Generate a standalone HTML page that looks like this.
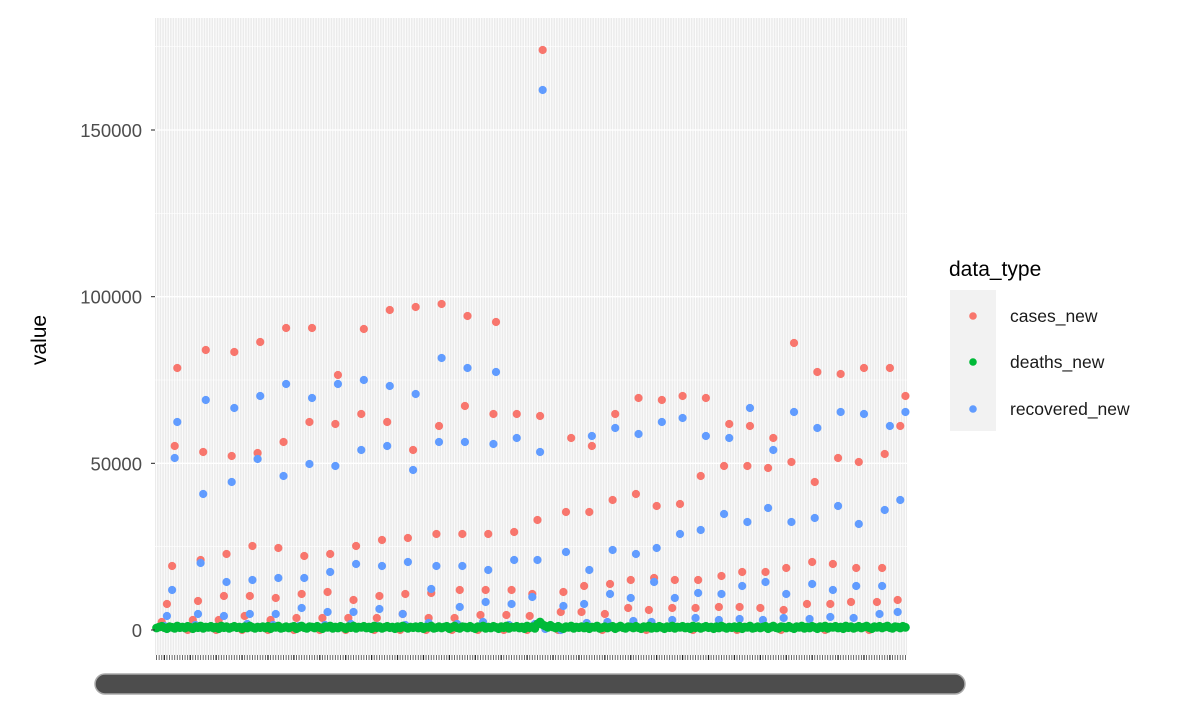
<!DOCTYPE html>
<html><head><meta charset="utf-8"><style>
html,body{margin:0;padding:0;background:#fff;}
svg{display:block;font-family:"Liberation Sans",Arial,sans-serif;}
</style></head><body>
<svg id="chart" width="1198" height="706" viewBox="0 0 1198 706">
<rect x="155" y="18" width="752" height="637" fill="#EBEBEB"/>
<g id="grid"></g>
<g id="pts"></g>
<g id="yax"></g>
<g id="xax"></g>
<text x="46" y="340" font-size="21" fill="#000" text-anchor="middle" transform="rotate(-90 46 340)">value</text>
<rect x="95" y="674" width="870" height="20" rx="10" fill="#4D4D4D" stroke="#AAAAAA" stroke-width="1.5"/>
<text x="520" y="708" font-size="10" fill="#000">.</text>
<g>
<text x="949" y="276" font-size="21" fill="#000">data_type</text>
<rect x="950" y="290" width="46" height="141" fill="#F2F2F2"/>
<g><circle cx="973" cy="316" r="3.8" fill="#F8766D"/><text x="1010" y="322" font-size="17.5" fill="#1A1A1A">cases_new</text></g>
<g><circle cx="973" cy="362" r="3.8" fill="#00BA38"/><text x="1010" y="368" font-size="17.5" fill="#1A1A1A">deaths_new</text></g>
<g><circle cx="973" cy="409" r="3.8" fill="#619CFF"/><text x="1010" y="415" font-size="17.5" fill="#1A1A1A">recovered_new</text></g>
</g>
</svg>
<script>
const nCategories = 290;
const yTicks = [0, 50000, 100000, 150000];
const yTickLabels = ["0", "50000", "100000", "150000"];
const yMinor = [25000, 75000, 125000, 175000];
const casesIdx = [8,7,19,18,30,29,40,39,50,49,60,59,70,69,80,79,90,89,100,99,110,109,120,119,131,130,139,149,148,160,168,177,186,195,203,212,221,229,238,246,255,264,273,283,289,287,
 6,17,27,37,47,57,67,77,87,97,108,118,128,138,147,158,167,176,185,193,202,210,219,228,236,245,254,263,271,281,
 4,16,26,36,46,56,66,76,86,96,106,117,127,137,145,157,165,175,183,192,200,209,218,226,235,243,253,261,270,280,286,
 2,14,24,34,44,54,64,74,85,95,105,115,125,135,144,156,164,173,182,190,199,208,217,225,233,242,251,260,268,278,
 12,23,33,43,53,63,73,84,94,104,114,124,134,143,155,172,189,207,224,241,258,275];
const casesVal = [78600,55200,84000,53400,83400,52200,86400,53100,90600,56400,90600,62400,76500,61800,90300,64800,96000,62400,96900,54000,97800,61200,94200,67200,92400,64800,64800,174000,64200,57600,55200,64800,69600,69000,70200,69600,61800,61200,57600,86100,77400,76800,78600,78600,70200,61200,
 19200,21000,22800,25200,24600,22200,22800,25200,27000,27600,28800,28800,28800,29400,33000,35400,35400,39000,40800,37200,37800,46200,49200,49200,48600,50400,44400,51600,50400,52800,
 7800,8700,10200,10200,9600,10800,11400,9000,10200,10800,11100,12000,12000,12000,10800,11400,13200,13800,15000,15600,15000,15000,16200,17400,17400,18600,20400,19800,18600,18600,9000,
 2400,3000,3000,4200,3000,3600,3600,3600,3600,4800,3600,3600,4500,4500,4200,5400,5400,4800,6600,6000,6600,6600,6900,6900,6600,6000,7800,7800,8400,8400,
 0,0,0,0,0,0,0,0,0,0,0,0,0,0,0,0,0,0,0,0,0,0];
const recIdx = [8,7,19,18,30,29,40,39,50,49,60,59,70,69,80,79,90,89,100,99,110,109,120,119,131,130,139,149,148,168,177,186,195,203,212,221,229,238,246,255,264,273,283,289,
 6,17,27,37,47,57,67,77,87,97,108,118,128,138,147,158,167,176,185,193,202,210,219,228,236,245,254,263,271,281,287,
 4,16,26,36,46,56,66,76,86,95,106,117,127,137,145,157,165,175,183,192,200,209,218,226,235,243,253,261,270,280,286,
 3,15,25,35,45,55,65,75,85,96,105,116,126,136,146,156,166,174,184,191,199,208,217,225,234,242,252,260,269,279,150];
const recVal = [62400,51600,69000,40800,66600,44400,70200,51300,73800,46200,69600,49800,73800,49200,75000,54000,73200,55200,70800,48000,81600,56400,78600,56400,77400,55800,57600,162000,53400,58200,60600,58800,62400,63600,58200,57600,66600,54000,65400,60600,65400,64800,61200,65400,
 12000,20100,14400,15000,15600,15600,17400,19800,19200,20400,19200,19200,18000,21000,21000,23400,18000,24000,22800,24600,28800,30000,34800,32400,36600,32400,33600,37200,31800,36000,39000,
 4200,4800,4200,4800,4800,6600,5400,5400,6300,4800,12300,6900,8400,7800,9900,7200,7800,10800,9600,14400,9600,11100,10800,13200,14400,10800,13800,12000,13200,13200,5400,
 1200,1500,900,1800,1500,1200,1500,1800,1200,1500,2100,1800,2400,1500,1800,0,2100,2400,2700,2400,3000,3600,3000,3300,3000,3600,3300,3900,3600,4800,300];
const deathsVal = [
 600,900,1100,700,400,1000,800,500,1200,700, 900,600,1100,800,400,1000,700,1200,500,900,
 800,1100,600,900,400,1200,700,1000,500,800, 1100,700,900,400,1000,600,1200,800,500,900,
 700,1000,600,1100,400,900,800,1200,500,700, 1000,600,900,1100,400,800,1200,700,500,1000,
 900,600,1100,700,400,1000,800,1200,500,900, 600,1100,800,400,1000,700,1200,500,900,800,
 1100,600,900,400,1200,700,1000,500,800,1100, 700,900,400,1000,600,1200,800,500,900,700,
 1000,600,1100,400,900,800,1200,500,700,1000, 600,900,1100,400,800,1200,700,500,1000,900,
 600,1100,700,400,1000,800,1200,500,900,600, 1100,800,400,1000,700,1200,500,900,800,1100,
 600,900,400,1200,700,1000,500,1800,2400,1600, 1200,800,1400,900,600,1100,700,400,1000,800,
 1200,500,900,700,1000,600,1100,400,900,800, 1200,500,700,1000,600,900,1100,400,800,1200,
 700,500,1000,900,600,1100,700,400,1000,800, 1200,500,900,600,1100,800,400,1000,700,1200,
 500,900,800,1100,600,900,400,1200,700,1000, 500,800,1100,700,900,400,1000,600,1200,800,
 500,900,700,1000,600,1100,400,900,800,1200, 500,700,1000,600,900,1100,400,800,1200,700,
 500,1000,900,600,1100,700,400,1000,800,1200, 500,900,600,1100,800,400,1000,700,1200,500,
 900,800,1100,600,900,400,1200,700,1000,500, 800,1100,600,900,1200,700,
 400,1000,800,1100,600,900,1200,700,500,1000, 900,600,1100,800];

const NS='http://www.w3.org/2000/svg';
const PL=155, PR=907, PT=18, PB=655;
const step=(PR-PL)/(nCategories-1+1.2);
function xPos(i){return PL+0.6*step+i*step;}
function yPos(v){return 630 - v/300;}
function mk(tag,attrs,parent){const e=document.createElementNS(NS,tag);for(const k in attrs)e.setAttribute(k,attrs[k]);parent.appendChild(e);return e;}
const grid=document.getElementById('grid');
yMinor.forEach(v=>{const y=yPos(v);if(y>PT){const l=mk('line',{x1:PL,x2:PR,y1:y,y2:y,stroke:'#fff','stroke-width':0.6},grid);

}});
yTicks.forEach(v=>{const y=yPos(v);const l=mk('line',{x1:PL,x2:PR,y1:y,y2:y,stroke:'#fff','stroke-width':1.3},grid);

});
for(let i=0;i<nCategories;i++){const x=xPos(i);const l=mk('line',{x1:x,x2:x,y1:PT,y2:PB,stroke:'#fff','stroke-width':1.1,'stroke-opacity':0.85},grid);

}
const pts=document.getElementById('pts');
function drawSeries(idx,vals,color,name,r){for(let k=0;k<vals.length;k++){const i=idx?idx[k]:k;const c=mk('circle',{cx:xPos(i),cy:yPos(vals[k]),r:r,fill:color},pts);

}}
drawSeries(casesIdx,casesVal,'#F8766D','cases-point',4.1);
drawSeries(recIdx,recVal,'#619CFF','recovered-point',4.1);
drawSeries(null,deathsVal,'#00BA38','deaths-point',4.4);
const yax=document.getElementById('yax');
yTicks.forEach((v,j)=>{const y=yPos(v);
const t=mk('line',{x1:PL-4,x2:PL,y1:y,y2:y,stroke:'#333','stroke-width':1.1},yax);


const tx=mk('text',{x:PL-13,y:y+7,'font-size':18.5,fill:'#4D4D4D','text-anchor':'end'},yax);tx.textContent=yTickLabels[j];

});
const xax=document.getElementById('xax');
for(let i=0;i<nCategories;i++){const x=xPos(i);const t=mk('line',{x1:x,x2:x,y1:PB,y2:PB+5,stroke:(i%10===3?'#222':'#555'),'stroke-width':(i%10===3?1.3:0.9)},xax);

}
</script>
</body></html>
